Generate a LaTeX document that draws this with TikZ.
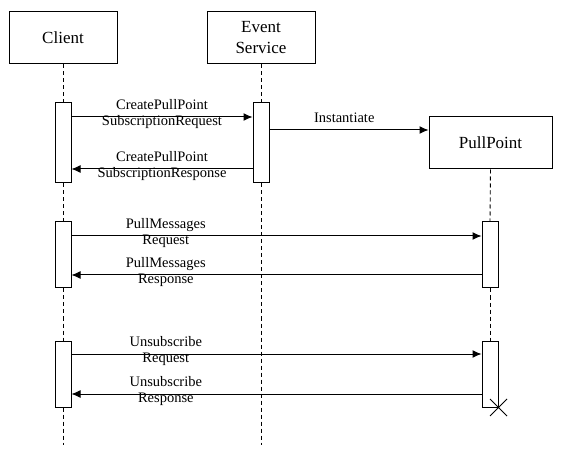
\documentclass[tikz,border=0pt]{standalone}
\usepackage{fontspec}
\setmainfont{Liberation Serif}
\usepackage{tikz}
\usetikzlibrary{arrows.meta}
\usetikzlibrary{shapes.misc}
\tikzset{>={Latex[length=9pt,width=8pt]}}

\begin{document}
\begin{tikzpicture}[x=1pt, y=-1pt, line width=1pt,
    obj/.style={draw, fill=white, minimum height=52pt, font=\fontsize{17}{21}\selectfont, align=center},
    act/.style={draw, fill=white, minimum width=16pt, inner sep=0pt},
    life/.style={line width=.9pt, dash pattern=on 4pt off 3pt},
    msg/.style={font=\fontsize{14.5}{16}\selectfont, align=center, yshift=3pt}]
    \useasboundingbox (0, 0) rectangle (562, 462);
    % objects
    \node[obj, minimum width=108pt](client) at (63, 38){Client};
    \node[obj, minimum width=108pt](es) at (261, 38){Event\\Service};
    \node[obj, minimum width=123pt](pp) at (490.5, 143){PullPoint};
    % lifelines
    \coordinate(cend) at (63, 445);
    \coordinate(eend) at (261, 445);
    \draw[life](client.south)--(cend);
    \draw[life](es.south)--(eend);
    % activations
    \node[act, minimum height=80pt](ca1) at (63, 143){};
    \node[act, minimum height=80pt](ea1) at (261, 143){};
    \node[act, minimum height=66pt](ca2) at (63, 255){};
    \node[act, minimum height=66pt](pa2) at (490, 255){};
    \node[act, minimum height=66pt](ca3) at (63, 374){};
    \node[act, minimum height=66pt](pa3) at (490, 374){};
    \draw[life](pp.south)--(pa2.north);
    \draw[life](pa2.south)--(pa3.north);
    \node[cross out, draw, minimum size=16pt, inner sep=0pt](kill) at (pa3.south east){};
    % messages
    \draw[->](ca1.east |- 0, 117)--(ea1.west |- 0, 117)node[msg, midway]{CreatePullPoint\\SubscriptionRequest};
    \draw[->](ea1.west |- 0, 169)--(ca1.east |- 0, 169)node[msg, midway]{CreatePullPoint\\SubscriptionResponse};
    \draw[->](ea1.east |- 0, 130)--(pp.west |- 0, 130)node[above=4pt, pos=.47, font=\fontsize{14.5}{16}\selectfont]{Instantiate};
    \draw[->](ca2.east |- 0, 236)--(pa2.west |- 0, 236)node[msg, pos=.23]{PullMessages\\Request};
    \draw[->](pa2.west |- 0, 275)--(ca2.east |- 0, 275)node[msg, pos=.77]{PullMessages\\Response};
    \draw[->](ca3.east |- 0, 354)--(pa3.west |- 0, 354)node[msg, pos=.23]{Unsubscribe\\Request};
    \draw[->](pa3.west |- 0, 394)--(ca3.east |- 0, 394)node[msg, pos=.77]{Unsubscribe\\Response};
\end{tikzpicture}
\end{document}
